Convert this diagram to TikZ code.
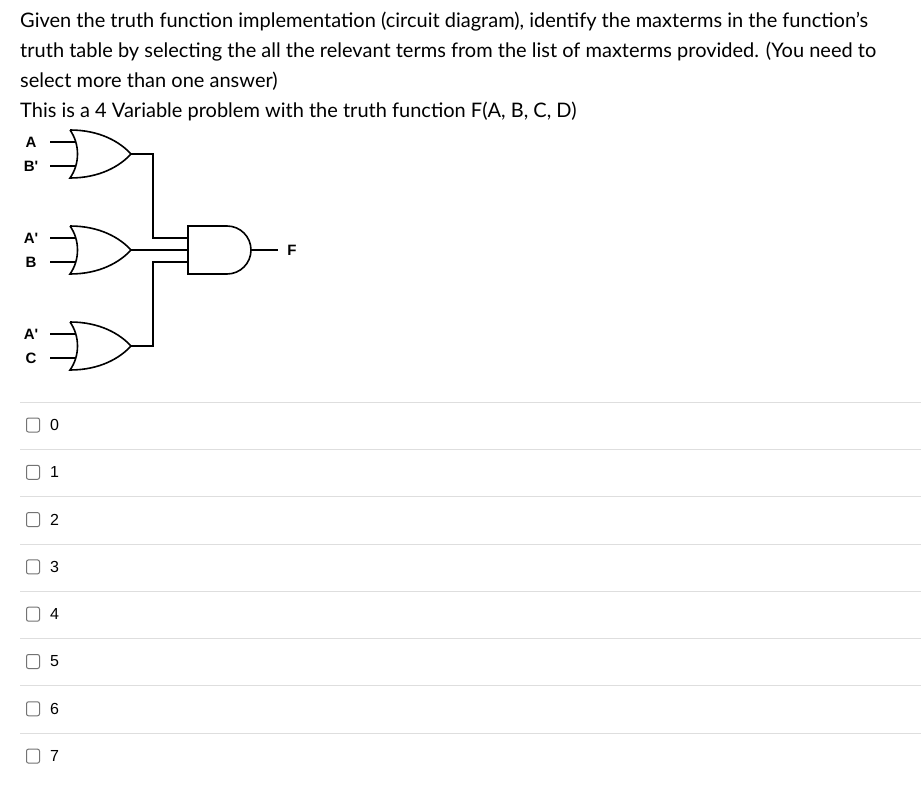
\documentclass[tikz,border=0pt]{standalone}
\usepackage{fontspec}
\setmainfont{Lato}
\newfontfamily\arial{Liberation Sans}
\begin{document}
\begin{tikzpicture}[x=1pt,y=-1pt,
  txt/.style={anchor=base west,inner sep=0,font=\fontsize{20}{22}\selectfont},
  lbl/.style={inner sep=0,font=\arial\bfseries\fontsize{15}{17}\selectfont},
  wire/.style={line width=1.6pt},
  sep/.style={draw=black!13,line width=0.8pt},
  cbox/.style={draw=black!55,line width=1pt,rounded corners=2pt,minimum width=13pt,minimum height=14pt,inner sep=0},
  num/.style={anchor=west,inner sep=0,font=\arial\fontsize{16}{18}\selectfont}]
\useasboundingbox[fill=white] (0,0) rectangle (921,789);
\node[txt] (t1) at (20,28) {Given the truth function implementation (circuit diagram), identify the maxterms in the function{\char"27}s};
\node[txt] (t2) at (20,58) {truth table by selecting the all the relevant terms from the list of maxterms provided. (You need to};
\node[txt] (t3) at (20,88) {select more than one answer)};
\node[txt] (t4) at (20,118) {This is a 4 Variable problem with the truth function F(A, B, C, D)};
% OR gates
\foreach \n/\y in {g1/154,g2/250,g3/346}{
  \draw[wire] (70,\y-24) .. controls (100,\y-24) and (120,\y-12) .. (131,\y)
     .. controls (120,\y+12) and (100,\y+24) .. (70,\y+24)
     .. controls (80,\y+10) and (80,\y-10) .. (70,\y-24);
  \coordinate (\n) at (131,\y);
  \coordinate (\n a) at (75,\y-12);
  \coordinate (\n b) at (75,\y+12);
  \coordinate (\n ai) at (50,\y-12);
  \coordinate (\n bi) at (50,\y+12);
  \draw[wire] (\n ai) -- (\n a);
  \draw[wire] (\n bi) -- (\n b);
}
\node[lbl] (la) at (31,142) {A};
\node[lbl] (lb) at (31,166) {B'};
\node[lbl] (lc) at (31,238) {A'};
\node[lbl] (ld) at (31,262) {B};
\node[lbl] (le) at (31,334) {A'};
\node[lbl] (lf) at (31,358) {C};
% AND gate
\draw[wire] (227,226) -- (188,226) -- (188,274) -- (227,274) arc(90:-90:24);
\coordinate (and1) at (188,238);
\coordinate (and2) at (188,250);
\coordinate (and3) at (188,262);
\coordinate (andout) at (251,250);
\coordinate (fout) at (278,250);
\draw[wire] (g1) -| (153,238) -- (and1);
\draw[wire] (g2) -- (and2);
\draw[wire] (g3) -| (153,262) -- (and3);
\draw[wire] (andout) -- (fout);
\node[lbl] (F) at (292,250) {F};
% list
\foreach \i in {0,...,7}{
  \pgfmathsetmacro{\yy}{402+47.3*\i}
  \draw[sep] (20,\yy) -- (921,\yy);
  \node[cbox] (c\i) at (33,\yy+23) {};
  \node[num] (n\i) at (50,\yy+23) {\i};
}
\end{tikzpicture}
\end{document}
